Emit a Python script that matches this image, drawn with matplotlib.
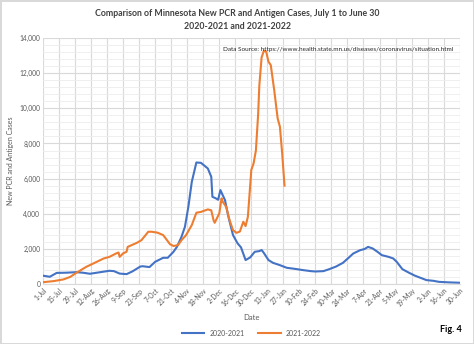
import matplotlib.pyplot as plt
from matplotlib.ticker import MultipleLocator, FuncFormatter

plt.rcParams['font.family'] = ['Lato', 'DejaVu Sans']

# day offsets from 1 July
days_2021 = [0, 3, 6, 12, 20, 29, 35, 41, 50, 58, 62, 67, 73, 78, 85, 87, 93, 98, 105, 109,
             114, 117, 121, 124, 127, 130, 134, 138, 144, 147, 148, 151, 153, 155, 159, 162,
             166, 170, 173, 177, 181, 185, 189, 191, 193, 197, 201, 207, 213, 220, 227, 234,
             238, 245, 250, 256, 262, 267, 271, 277, 281, 284, 288, 292, 296, 302, 306, 309,
             314, 320, 325, 329, 335, 341, 346, 355, 364]
cases_2021 = [480, 450, 420, 640, 650, 680, 650, 590, 680, 760, 740, 600, 570, 720, 1000, 1020,
              970, 1270, 1500, 1500, 1840, 2120, 2690, 3260, 4400, 5820, 6920, 6900, 6580, 6110,
              4970, 4880, 4800, 5350, 4780, 3830, 2790, 2320, 2090, 1370, 1520, 1840, 1880,
              1940, 1770, 1370, 1210, 1080, 930, 870, 800, 740, 720, 740, 850, 1000, 1210, 1500,
              1740, 1930, 2000, 2120, 2030, 1850, 1650, 1550, 1460, 1270, 850, 640, 480, 380,
              230, 190, 130, 100, 80]

days_2122 = [0, 9, 18, 24, 29, 38, 47, 53, 58, 64, 66, 67, 70, 73, 74, 82, 86, 92, 95, 100,
             105, 111, 114, 118, 121, 125, 130, 134, 138, 144, 147, 149, 150, 154, 156, 157,
             160, 163, 166, 169, 172, 175, 177, 179, 181, 182, 184, 186, 188, 189, 191, 193,
             195, 197, 199, 202, 205, 207, 209, 211]
cases_2122 = [110, 170, 270, 420, 640, 990, 1270, 1460, 1550, 1750, 1800, 1550, 1750, 1840,
              2120, 2350, 2500, 2980, 2980, 2930, 2790, 2270, 2170, 2220, 2500, 2790, 3360,
              4060, 4110, 4250, 4200, 3640, 3490, 4020, 4880, 4690, 4400, 3640, 3070, 2920,
              2990, 3550, 3300, 3830, 5600, 6500, 6870, 7600, 9700, 11300, 12900, 13280,
              13220, 12650, 12460, 11040, 9430, 8950, 7400, 5600]

tick_days = list(range(0, 365, 14))
tick_labels = ['1-Jul', '15-Jul', '29-Jul', '12-Aug', '26-Aug', '9-Sep', '23-Sep', '7-Oct',
               '21-Oct', '4-Nov', '18-Nov', '2-Dec', '16-Dec', '30-Dec', '13-Jan', '27-Jan',
               '10-Feb', '24-Feb', '10-Mar', '24-Mar', '7-Apr', '21-Apr', '5-May', '19-May',
               '2-Jun', '16-Jun', '30-Jun']

fig = plt.figure(figsize=(4.74, 3.44), dpi=100)
fig.patch.set_edgecolor('#d9d9d9')
fig.patch.set_linewidth(1)
ax = fig.add_axes([0.0907, 0.174, 0.879, 0.7155])

ax.plot(days_2021, cases_2021, color='#4472c4', lw=1.5, label='2020-2021')
ax.plot(days_2122, cases_2122, color='#ed7d31', lw=1.5, label='2021-2022')

ax.set_xlim(0, 364)
ax.set_ylim(0, 14000)
ax.set_xticks(tick_days)
ax.set_xticklabels(tick_labels, rotation=45, ha='right', rotation_mode='anchor')
ax.yaxis.set_major_locator(MultipleLocator(2000))
ax.yaxis.set_minor_locator(MultipleLocator(400))
ax.yaxis.set_major_formatter(FuncFormatter(lambda v, p: f'{int(v):,}'))
ax.tick_params(axis='both', length=0, labelsize=4.8, colors='#595959', pad=2)
ax.tick_params(axis='y', which='minor', length=0)
ax.grid(which='major', color='#d9d9d9', lw=0.8)
ax.grid(which='minor', axis='y', color='#ededed', lw=0.6)
ax.set_axisbelow(True)
for s in ['top', 'right', 'left']:
    ax.spines[s].set_visible(False)
ax.spines['bottom'].set_color('#d9d9d9')

ax.set_xlabel('Date', fontsize=5.5, color='#595959', labelpad=4)
ax.set_ylabel('New PCR and Antigen Cases', fontsize=5, color='#595959', labelpad=4)

fig.text(0.5, 0.962, 'Comparison of Minnesota New PCR and Antigen Cases, July 1 to June 30',
         ha='center', va='center', fontsize=6.3, fontweight='bold', color='#404040')
fig.text(0.5, 0.922, '2020-2021 and 2021-2022', ha='center', va='center', fontsize=6.3,
         fontweight='bold', color='#404040')
ax.text(0.985, 0.955, 'Data Source: https://www.health.state.mn.us/diseases/coronavirus/situation.html',
        transform=ax.transAxes, ha='right', va='center', fontsize=4.6, color='#262626')

ax.legend(loc='center', bbox_to_anchor=(0.5, -0.2), ncol=2, frameon=False, fontsize=5,
          handlelength=3.2, labelcolor='#595959', columnspacing=2)
fig.text(0.975, 0.03, 'Fig. 4', ha='right', va='bottom', fontsize=6.5, fontweight='bold')

fig.savefig('out.png', dpi=100)
